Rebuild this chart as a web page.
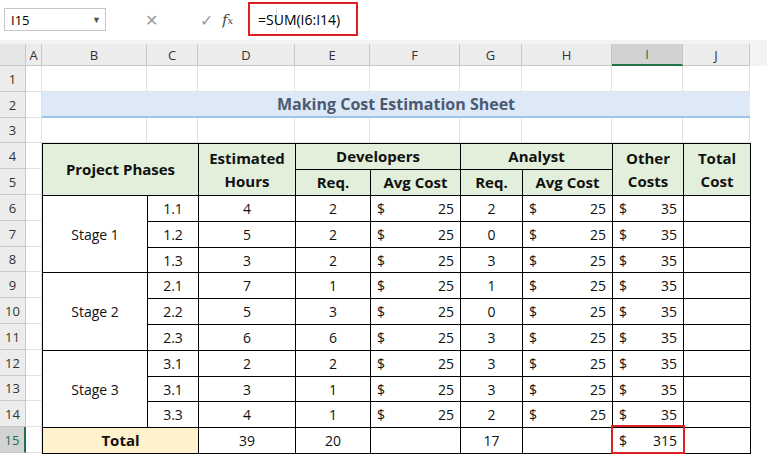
<!DOCTYPE html><html><head><meta charset="utf-8">
<script src="https://cdn.jsdelivr.net/npm/chart.js@4"></script>
<style>
body{margin:0;width:767px;height:455px;overflow:hidden;background:#fff;font-family:"Open Sans","Liberation Sans",sans-serif;position:relative}
.a{position:absolute;box-sizing:border-box;display:flex;align-items:center;white-space:pre;overflow:hidden}
</style></head><body>
<script>
const phases=["1.1","1.2","1.3","2.1","2.2","2.3","3.1","3.1","3.3"];
const stages=["Stage 1","Stage 2","Stage 3"];
const hours=[4,5,3,7,5,6,2,3,4];
const devReq=[2,2,2,1,3,6,2,1,1];
const devCost=[25,25,25,25,25,25,25,25,25];
const anaReq=[2,0,3,1,0,3,3,3,2];
const anaCost=[25,25,25,25,25,25,25,25,25];
const otherCost=[35,35,35,35,35,35,35,35,35];
const totals={hours:39,dev:20,ana:17,other:315};
const colLetters=["A","B","C","D","E","F","G","H","I","J"];
const cx=[26,42,147,198,295,370,460,522,612,683,750,767];
const rowTop=r=>Math.round(66+(r-1)*25.8);
function box(x,y,w,h,st,html){const d=document.createElement('div');d.className='a';Object.assign(d.style,{left:x+'px',top:y+'px',width:w+'px',height:h+'px'},st||{});if(html!==undefined)d.innerHTML=html;document.body.appendChild(d);return d;}
box(0,0,767,40,{background:'#fff'});
box(4,8,102,23,{border:'1px solid #c6c6c6',fontSize:'13px',paddingLeft:'6px'},'I15');
box(92,10,12,18,{fontSize:'9px',color:'#555'},'▼');
box(145,8,20,24,{fontSize:'16px',color:'#999'},'✕');
box(200,8,20,24,{fontSize:'16px',color:'#999'},'✓');
box(222,8,22,24,{fontSize:'15px',color:'#444',fontFamily:'"DejaVu Serif",serif'},'<i>f</i><i style="font-size:10px">x</i>');
box(276,8,491,24,{borderLeft:'1px solid #ddd'});
box(248,2,110,34,{border:'2px solid #e02020',fontSize:'14px',paddingLeft:'8px'},'=SUM(I6:I14)');
box(0,40,767,26,{background:'#f3f3f3'});
box(0,44,26,22,{background:'#e6e6e6',borderRight:'1px solid #c8c8c8',borderBottom:'1px solid #c8c8c8'});
colLetters.forEach((l,i)=>{box(cx[i],44,cx[i+1]-cx[i],22,{background:i==8?'#d2d2d2':'#ececec',borderRight:'1px solid #c8c8c8',borderBottom:i==8?'2px solid #217346':'1px solid #c8c8c8',justifyContent:'center',fontSize:'13px',color:i==8?'#217346':'#333'},l);});
for(let r=1;r<=15;r++){const y=rowTop(r),h=rowTop(r+1)-y;box(0,y,26,h,{background:r==15?'#d2d2d2':'#ececec',borderRight:r==15?'2px solid #217346':'1px solid #c8c8c8',borderBottom:'1px solid #c8c8c8',justifyContent:'center',fontSize:'13px',color:r==15?'#217346':'#333'},String(r));
 for(let c=0;c<10;c++)box(cx[c],y,cx[c+1]-cx[c],h,{borderRight:'1px solid #e1e1e1',borderBottom:'1px solid #e1e1e1'});}
box(cx[1],rowTop(2),cx[10]-cx[1],rowTop(3)-rowTop(2),{background:'#dde9f6',borderBottom:'2px solid #9dc3e6',justifyContent:'center',fontWeight:'bold',fontSize:'16px',color:'#4a5a72'},'Making Cost Estimation Sheet');
function cell(r1,c1,r2,c2,txt,o){o=o||{};const x=cx[c1],y=rowTop(r1),w=cx[c2+1]-x,h=rowTop(r2+1)-y;
 box(x,y,w+1,h+1,{border:'1px solid #000',background:o.fill||'#fff',justifyContent:o.align||'center',fontWeight:o.bold?'bold':'normal',fontSize:(o.size||14)+'px',textAlign:'center',lineHeight:'1.5',padding:'0 6px',color:'#111'},txt);}
function money(r,c,v,o){cell(r,c,r,c,'<span>$</span><span>'+v+'</span>',Object.assign({align:'space-between'},o||{}));}
const G='#e2efda';
cell(4,1,5,2,'Project Phases',{fill:G,bold:1,size:15});
cell(4,3,5,3,'Estimated\nHours',{fill:G,bold:1,size:15});
cell(4,4,4,5,'Developers',{fill:G,bold:1,size:15});
cell(4,6,4,7,'Analyst',{fill:G,bold:1,size:15});
cell(5,4,5,4,'Req.',{fill:G,bold:1,size:15});cell(5,5,5,5,'Avg Cost',{fill:G,bold:1,size:15});
cell(5,6,5,6,'Req.',{fill:G,bold:1,size:15});cell(5,7,5,7,'Avg Cost',{fill:G,bold:1,size:15});
cell(4,8,5,8,'Other\nCosts',{fill:G,bold:1,size:15});
cell(4,9,5,9,'Total\nCost',{fill:G,bold:1,size:15});
stages.forEach((s,i)=>cell(6+i*3,1,8+i*3,1,s));
phases.forEach((p,i)=>{const r=6+i;cell(r,2,r,2,p);cell(r,3,r,3,hours[i]);cell(r,4,r,4,devReq[i]);money(r,5,devCost[i]);cell(r,6,r,6,anaReq[i]);money(r,7,anaCost[i]);money(r,8,otherCost[i]);cell(r,9,r,9,'');});
cell(15,1,15,2,'Total',{fill:'#fff2cc',bold:1,size:15});
cell(15,3,15,3,totals.hours);cell(15,4,15,4,totals.dev);cell(15,5,15,5,'');cell(15,6,15,6,totals.ana);cell(15,7,15,7,'');
money(15,8,totals.other);cell(15,9,15,9,'');
box(cx[8]-1,rowTop(15)-2,cx[9]-cx[8]+3,29,{border:'2px solid #e02020'});
</script></body></html>
